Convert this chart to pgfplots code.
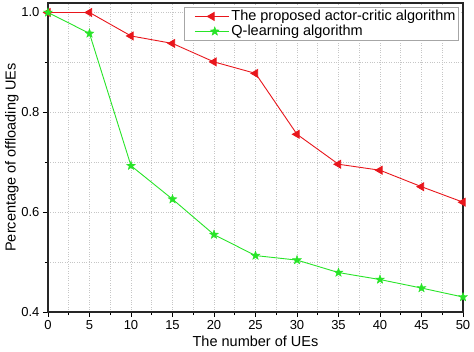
\documentclass[border=0pt]{standalone}
\usepackage{fontspec}
\setmainfont{Liberation Sans}
\usepackage{pgfplots}
\pgfplotsset{compat=1.18}
\usetikzlibrary{shapes.geometric}
\definecolor{myred}{RGB}{232,22,28}
\definecolor{mygreen}{RGB}{40,228,40}
\pgfdeclareplotmark{fstar}{\node[star, star points=5, star point ratio=2.4, fill, draw, line width=0.4pt, inner sep=0pt, minimum size=2.3\pgfplotmarksize] {};}
\begin{document}
\begin{tikzpicture}
\useasboundingbox (-48pt,-39pt) rectangle (426pt,312pt);
\begin{axis}[
  scale only axis, width=415pt, height=309pt,
  xmin=0, xmax=50, ymin=0.4, ymax=1.019,
  xtick={0,5,...,50}, minor x tick num=1,
  ytick={0.4,0.6,0.8,1.0}, minor ytick={0.5,0.7,0.9},
  yticklabel style={/pgf/number format/.cd, fixed, fixed zerofill, precision=1},
  /pgf/number format/assume math mode=true,
  tick label style={font=\fontsize{13}{14}\selectfont},
  label style={font=\fontsize{14.5}{16}\selectfont},
  xlabel={The number of UEs}, ylabel={Percentage of offloading UEs},
  xlabel style={yshift=1pt}, ylabel style={yshift=-4pt},
  tick align=outside, major tick length=5pt, minor tick length=3pt,
  every tick/.style={black, line width=0.8pt},
  xtick pos=bottom, ytick pos=left,
  axis line style={black!85, line width=1.4pt},
  grid=both,
  major grid style={gray!45, dotted, line width=0.6pt},
  minor grid style={gray!45, dotted, line width=0.6pt},
  legend style={at={(rel axis cs:0.99,0.987)}, anchor=north east,
    font=\fontsize{14.5}{16}\selectfont, draw=gray!70, line width=0.8pt,
    inner sep=1pt, row sep=-1pt, legend cell align=left},
  legend image code/.code={\path (-0.3cm,0cm); \draw[#1] (0cm,0cm) -- (1.2cm,0cm); \draw[#1, mark repeat=1] plot coordinates {(0.6cm,0cm)};},
]
\addplot[myred, line width=0.9pt, mark=triangle*, mark size=4.5pt, mark options={rotate=90, fill=myred}]
coordinates {(0,1.0) (5,1.0) (10,0.953) (15,0.938) (20,0.901) (25,0.878) (30,0.756) (35,0.696) (40,0.684) (45,0.651) (50,0.620)};
\addlegendentry{The proposed actor-critic algorithm}
\addplot[mygreen, line width=0.9pt, mark=fstar, mark size=4pt, mark options={fill=mygreen}]
coordinates {(0,1.0) (5,0.958) (10,0.693) (15,0.626) (20,0.555) (25,0.513) (30,0.504) (35,0.479) (40,0.465) (45,0.448) (50,0.430)};
\addlegendentry{Q-learning algorithm}
\end{axis}
\end{tikzpicture}
\end{document}
